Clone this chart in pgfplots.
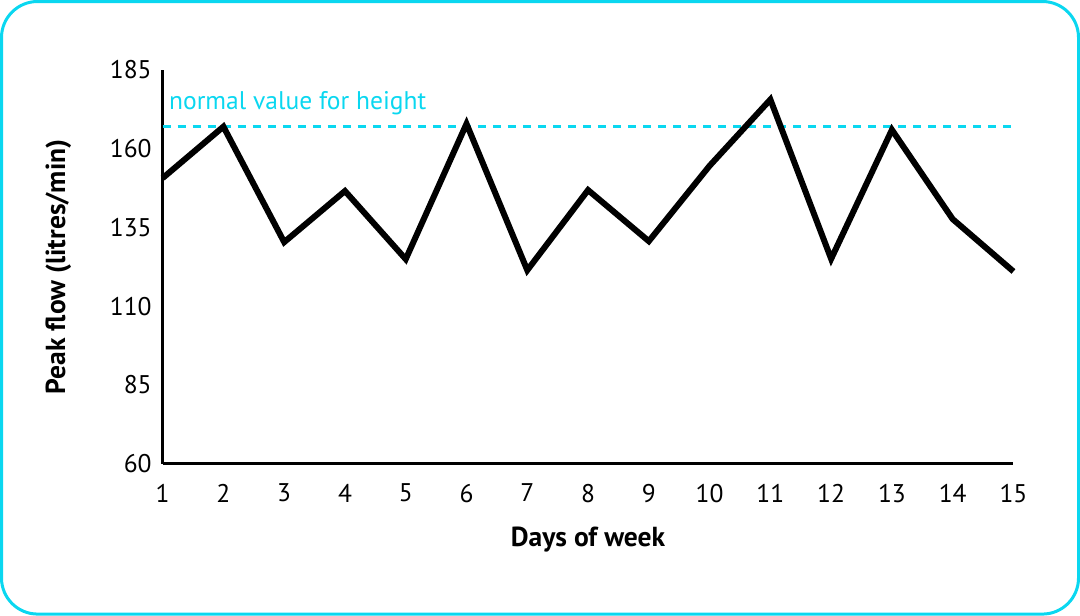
\documentclass[border=0pt]{standalone}
\usepackage{pgfplots}
\pgfplotsset{compat=1.18}
\usepackage{fontspec}
\setmainfont{PT Sans}
\definecolor{cyanline}{RGB}{10,215,240}
\begin{document}
\begin{tikzpicture}[x=1bp,y=1bp]
\draw[cyanline, line width=1.5bp, rounded corners=18bp] (1,1) rectangle (539,307);
\begin{axis}[
  at={(81.5bp,76bp)}, anchor=south west,
  scale only axis, width=425bp, height=197bp,
  xmin=1, xmax=15, ymin=60, ymax=185,
  axis x line*=bottom, axis y line*=left,
  axis line style={line width=1.5bp, -},
  xtick={1,...,15}, ytick={60,85,110,135,160,185},
  major tick length=0pt,
  tick label style={font=\fontsize{12.8}{14}\selectfont},
  /pgf/number format/assume math mode=true,
  xticklabel style={yshift=-6.5bp},
  yticklabel style={xshift=-2bp},
  xlabel={\textbf{Days of week}},
  ylabel={\textbf{Peak flow (litres/min)}},
  label style={font=\fontsize{13.8}{15}\selectfont},
  xlabel style={yshift=-5.5bp},
  ylabel style={yshift=12.5bp},
  clip=false,
]
\addplot[cyanline, line width=1.7bp, dash pattern=on 4bp off 3.5bp] coordinates {(1,167) (15.07,167)};
\addplot[black, line width=3bp, line join=miter] coordinates {
(1,150.6) (2,166.9) (3,130.3) (4,146.5) (5,124.9) (6,167.8) (7,121.4) (8,146.8)
(9,130.6) (10,154.5) (11,175.5) (12,125) (13,165.9) (14,137.6) (15,121)
};
\node[anchor=west, text=cyanline, font=\fontsize{12.8}{14}\selectfont, inner sep=0pt] at (axis cs:1.1,174.3) {normal value for height};
\end{axis}
\end{tikzpicture}
\end{document}
